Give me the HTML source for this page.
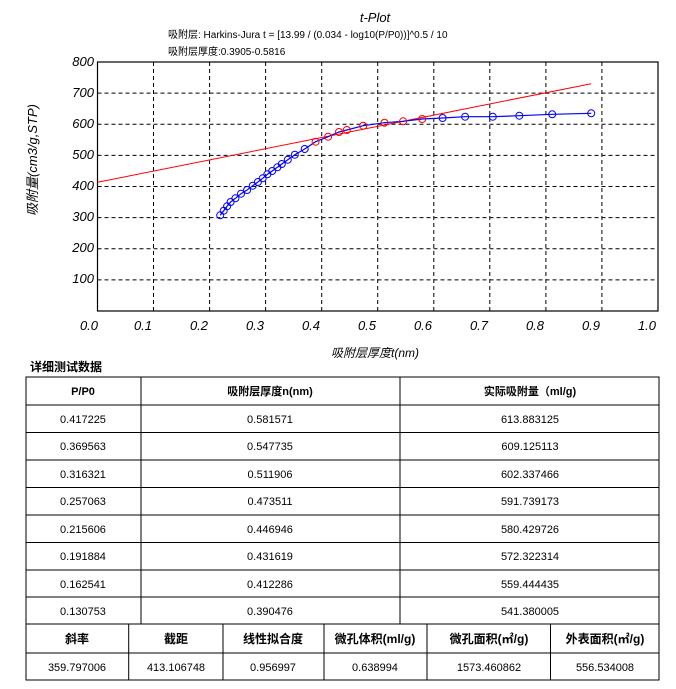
<!DOCTYPE html>
<html><head><meta charset="utf-8"><style>
body{margin:0;background:#fff}
svg{display:block;font-family:"Liberation Sans","Noto Sans CJK SC",sans-serif}
</style></head><body>
<svg width="676" height="689" viewBox="0 0 676 689" xmlns="http://www.w3.org/2000/svg">
<text x="375" y="22" font-size="13" font-style="italic" text-anchor="middle">t-Plot</text>
<text x="168" y="38" font-size="10">吸附层: Harkins-Jura t = [13.99 / (0.034 - log10(P/P0))]^0.5 / 10</text>
<text x="168" y="55" font-size="10">吸附层厚度:0.3905-0.5816</text>
<g stroke="#000" stroke-dasharray="4,3" stroke-width="1">
<line x1="153.5" y1="62" x2="153.5" y2="311"/><line x1="209.6" y1="62" x2="209.6" y2="311"/>
<line x1="265.6" y1="62" x2="265.6" y2="311"/><line x1="321.7" y1="62" x2="321.7" y2="311"/>
<line x1="377.7" y1="62" x2="377.7" y2="311"/><line x1="433.8" y1="62" x2="433.8" y2="311"/>
<line x1="489.8" y1="62" x2="489.8" y2="311"/><line x1="545.9" y1="62" x2="545.9" y2="311"/>
<line x1="601.9" y1="62" x2="601.9" y2="311"/>
<line x1="97.5" y1="93.1" x2="658" y2="93.1"/><line x1="97.5" y1="124.2" x2="658" y2="124.2"/>
<line x1="97.5" y1="155.4" x2="658" y2="155.4"/><line x1="97.5" y1="186.5" x2="658" y2="186.5"/>
<line x1="97.5" y1="217.6" x2="658" y2="217.6"/><line x1="97.5" y1="248.7" x2="658" y2="248.7"/>
<line x1="97.5" y1="279.9" x2="658" y2="279.9"/>
</g>
<rect x="97.5" y="62" width="560.5" height="249" fill="none" stroke="#000" stroke-width="1.2"/>
<g font-size="13" font-style="italic" text-anchor="end">
<text x="94" y="66">800</text><text x="94" y="97">700</text><text x="94" y="128">600</text>
<text x="94" y="159">500</text><text x="94" y="190">400</text><text x="94" y="221">300</text>
<text x="94" y="252">200</text><text x="94" y="283">100</text>
</g>
<g font-size="13" font-style="italic" text-anchor="middle">
<text x="89" y="330">0.0</text><text x="143" y="330">0.1</text><text x="199" y="330">0.2</text>
<text x="255" y="330">0.3</text><text x="311" y="330">0.4</text><text x="367" y="330">0.5</text>
<text x="423" y="330">0.6</text><text x="479" y="330">0.7</text><text x="535" y="330">0.8</text>
<text x="591" y="330">0.9</text><text x="647" y="330">1.0</text>
</g>
<text x="375" y="357" font-size="12" font-style="italic" text-anchor="middle">吸附层厚度t(nm)</text>
<text transform="translate(37,160) rotate(-90)" font-size="13" font-style="italic" text-anchor="middle">吸附量(cm3/g,STP)</text>
<line x1="97.5" y1="182.3" x2="591.2" y2="83.7" stroke="#f00" stroke-width="1"/>
<polyline fill="none" stroke="#00f" stroke-width="1.2" points="220.2,215.3 223.7,210.7 227.1,206.3 230.6,202 235.4,198.3 241,193.7 247.1,190 252.7,185.7 257.9,182 262.7,178.3 267.4,174.3 272.2,171 277.4,167.3 281.8,164 287.8,159.7 294.8,154.7 304.7,149 315.6,141.7 328.1,136.7 339,132 346.8,130 363.2,125.7 384.5,122.7 403.1,121.3 422.2,119 442.6,118 465.1,116.7 492.8,116.7 519.3,115.7 552.2,114.3 591.2,113.3"/>
<g fill="none" stroke="#00f" stroke-width="1">
<circle cx="220.2" cy="215.3" r="3.5"/><circle cx="223.7" cy="210.7" r="3.5"/><circle cx="227.1" cy="206.3" r="3.5"/><circle cx="230.6" cy="202" r="3.5"/><circle cx="235.4" cy="198.3" r="3.5"/><circle cx="241" cy="193.7" r="3.5"/><circle cx="247.1" cy="190" r="3.5"/><circle cx="252.7" cy="185.7" r="3.5"/><circle cx="257.9" cy="182" r="3.5"/><circle cx="262.7" cy="178.3" r="3.5"/><circle cx="267.4" cy="174.3" r="3.5"/><circle cx="272.2" cy="171" r="3.5"/><circle cx="277.4" cy="167.3" r="3.5"/><circle cx="281.8" cy="164" r="3.5"/><circle cx="287.8" cy="159.7" r="3.5"/><circle cx="294.8" cy="154.7" r="3.5"/><circle cx="304.7" cy="149" r="3.5"/>
<circle cx="442.6" cy="118" r="3.5"/><circle cx="465.1" cy="116.7" r="3.5"/><circle cx="492.8" cy="116.7" r="3.5"/><circle cx="519.3" cy="115.7" r="3.5"/><circle cx="552.2" cy="114.3" r="3.5"/><circle cx="591.2" cy="113.3" r="3.5"/>
</g>
<g fill="none" stroke="#f00" stroke-width="1">
<circle cx="315.6" cy="141.7" r="3.5"/><circle cx="328.1" cy="136.7" r="3.5"/><circle cx="339" cy="132" r="3.5"/><circle cx="346.8" cy="130" r="3.5"/><circle cx="363.2" cy="125.7" r="3.5"/><circle cx="384.5" cy="122.7" r="3.5"/><circle cx="403.1" cy="121.3" r="3.5"/><circle cx="422.2" cy="119" r="3.5"/>
</g>
<text x="30" y="371" font-size="12" font-weight="bold">详细测试数据</text>
<g stroke="#000" stroke-width="1" fill="none">
<rect x="26" y="377" width="633" height="303"/>
<line x1="26" y1="405" x2="659" y2="405"/><line x1="26" y1="432.5" x2="659" y2="432.5"/>
<line x1="26" y1="460" x2="659" y2="460"/><line x1="26" y1="487.5" x2="659" y2="487.5"/>
<line x1="26" y1="515" x2="659" y2="515"/><line x1="26" y1="542.5" x2="659" y2="542.5"/>
<line x1="26" y1="570" x2="659" y2="570"/><line x1="26" y1="597" x2="659" y2="597"/>
<line x1="26" y1="624" x2="659" y2="624"/><line x1="26" y1="653" x2="659" y2="653"/>
<line x1="141" y1="377" x2="141" y2="624"/><line x1="400" y1="377" x2="400" y2="624"/>
<line x1="128.7" y1="624" x2="128.7" y2="680"/><line x1="223" y1="624" x2="223" y2="680"/>
<line x1="324" y1="624" x2="324" y2="680"/><line x1="427" y1="624" x2="427" y2="680"/>
<line x1="550.5" y1="624" x2="550.5" y2="680"/>
</g>
<g font-size="11" text-anchor="middle">
<g font-weight="bold"><text x="83" y="395">P/P0</text><text x="270" y="395">吸附层厚度n(nm)</text><text x="530" y="395">实际吸附量（ml/g)</text></g>
<text x="83" y="423">0.417225</text><text x="270" y="423">0.581571</text><text x="530" y="423">613.883125</text>
<text x="83" y="450">0.369563</text><text x="270" y="450">0.547735</text><text x="530" y="450">609.125113</text>
<text x="83" y="478">0.316321</text><text x="270" y="478">0.511906</text><text x="530" y="478">602.337466</text>
<text x="83" y="505">0.257063</text><text x="270" y="505">0.473511</text><text x="530" y="505">591.739173</text>
<text x="83" y="533">0.215606</text><text x="270" y="533">0.446946</text><text x="530" y="533">580.429726</text>
<text x="83" y="560">0.191884</text><text x="270" y="560">0.431619</text><text x="530" y="560">572.322314</text>
<text x="83" y="588">0.162541</text><text x="270" y="588">0.412286</text><text x="530" y="588">559.444435</text>
<text x="83" y="615">0.130753</text><text x="270" y="615">0.390476</text><text x="530" y="615">541.380005</text>
<g font-weight="bold" font-size="12"><text x="77" y="643">斜率</text><text x="176" y="643">截距</text><text x="273" y="643">线性拟合度</text><text x="375" y="643">微孔体积(ml/g)</text><text x="489" y="643">微孔面积(㎡/g)</text><text x="605" y="643">外表面积(㎡/g)</text></g>
<text x="77" y="671">359.797006</text><text x="176" y="671">413.106748</text><text x="273" y="671">0.956997</text><text x="375" y="671">0.638994</text><text x="489" y="671">1573.460862</text><text x="605" y="671">556.534008</text>
</g>
</svg>
</body></html>
